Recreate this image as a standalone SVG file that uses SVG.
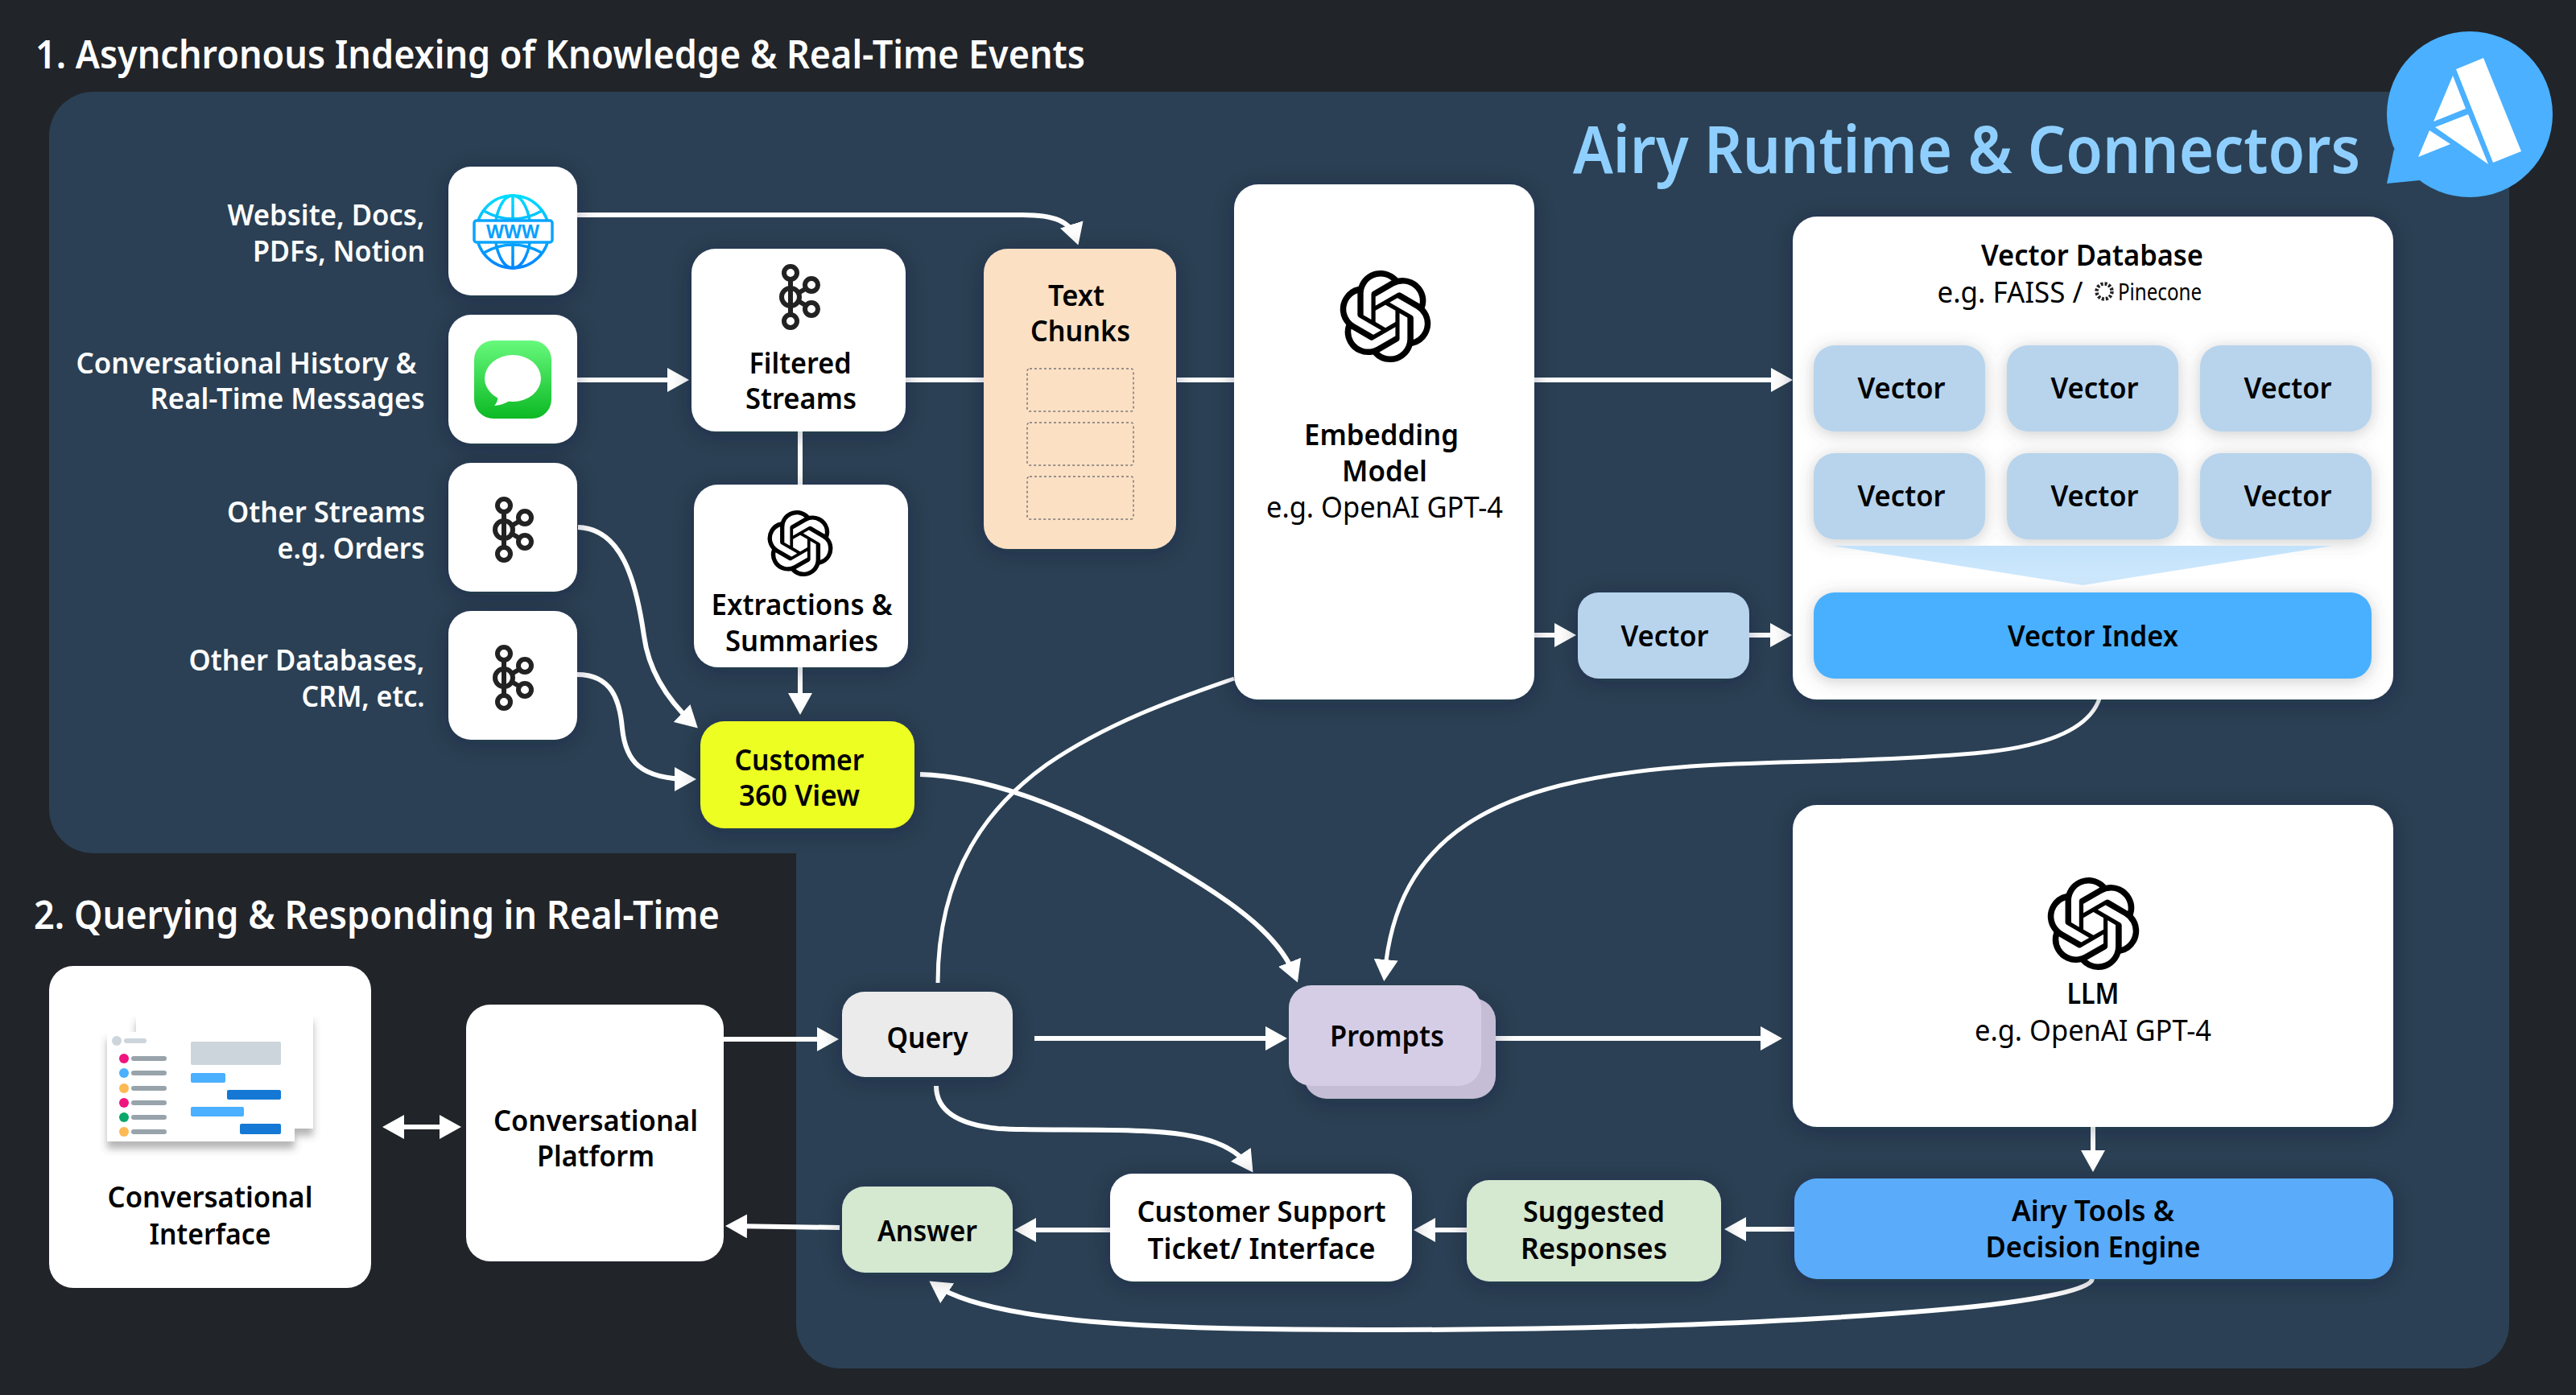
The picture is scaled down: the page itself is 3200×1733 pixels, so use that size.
<svg xmlns="http://www.w3.org/2000/svg" xmlns:xlink="http://www.w3.org/1999/xlink" width="3200" height="1733" viewBox="0 0 3200 1733">
<style>
text{font-family:"Noto Sans","Liberation Sans",sans-serif;text-anchor:middle;fill:#000;font-weight:600;font-size:36px}
.r{font-weight:400}
.h{fill:#fff;font-size:49px;text-anchor:start}
.w{fill:#fff;font-size:36px}
.c{fill:none;stroke:#fff;stroke-width:6}
.t{stroke-width:5}
.n{filter:url(#sh)}
.ks{fill:none;stroke:#222;stroke-width:6}
</style>
<defs>
<filter id="sh" x="-30%" y="-30%" width="160%" height="160%"><feDropShadow dx="0" dy="4" stdDeviation="14" flood-color="#0b1a28" flood-opacity=".3"/></filter>
<filter id="sg" x="-30%" y="-30%" width="160%" height="160%"><feDropShadow dx="0" dy="3" stdDeviation="10" flood-color="#555" flood-opacity=".3"/></filter>
<filter id="sm" x="-20%" y="-20%" width="140%" height="150%"><feDropShadow dx="0" dy="9" stdDeviation="5" flood-color="#444" flood-opacity=".4"/></filter>
<linearGradient id="gw" x1="0" y1="0" x2="0" y2="1"><stop offset="0" stop-color="#00dcff"/><stop offset="1" stop-color="#0084ff"/></linearGradient>
<linearGradient id="gm" x1="0" y1="0" x2="0" y2="1"><stop offset="0" stop-color="#67f97c"/><stop offset="1" stop-color="#0bb923"/></linearGradient>
<linearGradient id="gt" x1="0" y1="0" x2="0" y2="1"><stop offset="0" stop-color="#c2e2fb"/><stop offset="1" stop-color="#cfe9fd"/></linearGradient>
<marker id="a" markerUnits="userSpaceOnUse" markerWidth="27" markerHeight="30" viewBox="0 0 27 30" refX="19" refY="15" orient="auto-start-reverse"><path d="M0 0L27 15L0 30Z" fill="#fff"/></marker>
<symbol id="oa" viewBox="0 0 24 24"><path d="M22.2819 9.8211a5.9847 5.9847 0 0 0-.5157-4.9108 6.0462 6.0462 0 0 0-6.5098-2.9A6.0651 6.0651 0 0 0 4.9807 4.1818a5.9847 5.9847 0 0 0-3.9977 2.9 6.0462 6.0462 0 0 0 .7427 7.0966 5.98 5.98 0 0 0 .511 4.9107 6.051 6.051 0 0 0 6.5146 2.9001A5.9847 5.9847 0 0 0 13.2599 24a6.0557 6.0557 0 0 0 5.7718-4.2058 5.9894 5.9894 0 0 0 3.9977-2.9001 6.0557 6.0557 0 0 0-.7475-7.0729zm-9.022 12.6081a4.4755 4.4755 0 0 1-2.8764-1.0408l.1419-.0804 4.7783-2.7582a.7948.7948 0 0 0 .3927-.6813v-6.7369l2.02 1.1686a.071.071 0 0 1 .038.052v5.5826a4.504 4.504 0 0 1-4.4945 4.4944zm-9.6607-4.1254a4.4708 4.4708 0 0 1-.5346-3.0137l.142.0852 4.783 2.7582a.7712.7712 0 0 0 .7806 0l5.8428-3.3685v2.3324a.0804.0804 0 0 1-.0332.0615L9.74 19.9502a4.4992 4.4992 0 0 1-6.1408-1.6464zM2.3408 7.8956a4.485 4.485 0 0 1 2.3655-1.9728V11.6a.7664.7664 0 0 0 .3879.6765l5.8144 3.3543-2.0201 1.1685a.0757.0757 0 0 1-.071 0l-4.8303-2.7865A4.504 4.504 0 0 1 2.3408 7.872zm16.5963 3.8558L13.1038 8.364 15.1192 7.2a.0757.0757 0 0 1 .071 0l4.8303 2.7913a4.4944 4.4944 0 0 1-.6765 8.1042v-5.6772a.79.79 0 0 0-.407-.667zm2.0107-3.0231l-.142-.0852-4.7735-2.7818a.7759.7759 0 0 0-.7854 0L9.409 9.2297V6.8974a.0662.0662 0 0 1 .0284-.0615l4.8303-2.7866a4.4992 4.4992 0 0 1 6.6802 4.66zM8.3065 12.863l-2.02-1.1638a.0804.0804 0 0 1-.038-.0567V6.0742a4.4992 4.4992 0 0 1 7.3757-3.4537l-.142.0805L8.704 5.459a.7948.7948 0 0 0-.3927.6813zm1.0976-2.3654l2.602-1.4998 2.6069 1.4998v2.9994l-2.5974 1.4997-2.6067-1.4997Z"/></symbol>
<g id="kafka"><path class="ks" d="M626 636V680M634 654L646 647M634 662L646 669"/><circle class="ks" cx="626" cy="628" r="8"/><circle class="ks" cx="626" cy="658" r="11"/><circle class="ks" cx="626" cy="688" r="8"/><circle class="ks" cx="652" cy="643" r="8"/><circle class="ks" cx="652" cy="673" r="8"/></g>
</defs>
<rect id="background" width="3200" height="1733" fill="#212429"/>
<path id="panel" d="M116 114H3117V1645a55 55 0 0 1-55 55H1044a55 55 0 0 1-55-55V1060H116a55 55 0 0 1-55-55V169a55 55 0 0 1 55-55Z" fill="#2b4054"/>
<text class="h" x="44" y="85" textLength="1304" lengthAdjust="spacingAndGlyphs">1. Asynchronous Indexing of Knowledge &amp; Real-Time Events</text>
<text class="h" x="42" y="1154" textLength="852" lengthAdjust="spacingAndGlyphs">2. Querying &amp; Responding in Real-Time</text>
<text x="1954" y="215" style="text-anchor:start;fill:#8fcfff;font-size:82px" textLength="978" lengthAdjust="spacingAndGlyphs">Airy Runtime &amp; Connectors</text>

<g id="labels">
<text class="w" x="405" y="280" textLength="245" lengthAdjust="spacingAndGlyphs">Website, Docs,</text>
<text class="w" x="421" y="325" textLength="214" lengthAdjust="spacingAndGlyphs">PDFs, Notion</text>
<text class="w" x="306" y="464" textLength="423" lengthAdjust="spacingAndGlyphs">Conversational History &amp;</text>
<text class="w" x="357" y="508" textLength="341" lengthAdjust="spacingAndGlyphs">Real-Time Messages</text>
<text class="w" x="405" y="649" textLength="246" lengthAdjust="spacingAndGlyphs">Other Streams</text>
<text class="w" x="436" y="694" textLength="183" lengthAdjust="spacingAndGlyphs">e.g. Orders</text>
<text class="w" x="381" y="833" textLength="293" lengthAdjust="spacingAndGlyphs">Other Databases,</text>
<text class="w" x="451" y="878" textLength="153" lengthAdjust="spacingAndGlyphs">CRM, etc.</text>
</g>

<g id="connectors">
<path class="c" d="M717 267H1270C1310 267 1330 275 1337 297" marker-end="url(#a)"/>
<path class="c" d="M717 472H848" marker-end="url(#a)"/>
<path class="c" d="M1125 472H1222M1462 472H1533"/>
<path class="c" d="M1906 472H2219" marker-end="url(#a)"/>
<path class="c" d="M994 536V602"/>
<path class="c" d="M994 829V880" marker-end="url(#a)"/>
<path class="c" d="M718 655C772 657 790 720 800 790C806 835 830 870 861 899" marker-end="url(#a)"/>
<path class="c" d="M717 838C760 838 770 870 773 905C777 945 795 968 857 968" marker-end="url(#a)"/>
<path class="c" d="M1143 962C1260 965 1400 1040 1495 1100C1550 1135 1592 1170 1609 1213" marker-end="url(#a)"/>
<path class="c t" d="M1165 1221C1165 1080 1230 1000 1300 950C1380 895 1470 865 1533 843"/>
<path class="c" d="M899 1291H1034" marker-end="url(#a)"/>
<path class="c" d="M1043 1525L909 1523" marker-end="url(#a)"/>
<path class="c" d="M483 1400H565" marker-start="url(#a)" marker-end="url(#a)"/>
<path class="c" d="M1285 1290H1591" marker-end="url(#a)"/>
<path class="c" d="M1858 1290H2206" marker-end="url(#a)"/>
<path class="c" d="M1163 1349C1163 1380 1190 1397 1240 1402C1290 1405 1350 1402 1420 1405C1500 1408 1535 1425 1552 1450" marker-end="url(#a)"/>
<path class="c" d="M1379 1528H1268" marker-end="url(#a)"/>
<path class="c" d="M1822 1528H1764" marker-end="url(#a)"/>
<path class="c" d="M2229 1527H2150" marker-end="url(#a)"/>
<path class="c" d="M2600 1400V1448" marker-end="url(#a)"/>
<path class="c" d="M2599 1589C2597 1605 2500 1620 2400 1628C2200 1645 1950 1652 1727 1652C1500 1652 1240 1650 1161 1596" marker-end="url(#a)"/>
<path class="c t" d="M2611 850C2610 905 2540 930 2438 937C2300 948 2200 945 2100 952C1850 970 1735 1040 1720 1211" marker-end="url(#a)"/>
<path class="c" d="M1906 789H1950" marker-end="url(#a)"/>
<path class="c" d="M2173 789H2218" marker-end="url(#a)"/>
</g>

<g id="node-web"><rect class="n" x="557" y="207" width="160" height="160" rx="28" fill="#fff"/>
<g fill="none" stroke="url(#gw)" stroke-width="3.5"><circle cx="637" cy="288" r="45"/><ellipse cx="637" cy="288" rx="22" ry="45"/><path d="M637 243V333M601 262Q637 282 673 262M601 314Q637 294 673 314"/></g>
<rect x="589" y="274" width="97" height="27" rx="3" fill="#fff" stroke="#0aa4ff" stroke-width="3.5"/>
<text x="637" y="296" style="font-size:23px;fill:#0aa0ff;font-weight:700" textLength="66" lengthAdjust="spacingAndGlyphs">WWW</text></g>

<g id="node-messages"><rect class="n" x="557" y="391" width="160" height="160" rx="28" fill="#fff"/>
<rect x="589" y="423" width="96" height="97" rx="24" fill="url(#gm)"/>
<ellipse cx="637" cy="470" rx="35" ry="29" fill="#fff"/><path d="M618 488Q620 498 614 504Q626 503 634 497Z" fill="#fff"/></g>

<g id="node-streams"><rect class="n" x="557" y="575" width="160" height="160" rx="28" fill="#fff"/><use xlink:href="#kafka" href="#kafka"/></g>
<g id="node-databases"><rect class="n" x="557" y="759" width="160" height="160" rx="28" fill="#fff"/><use xlink:href="#kafka" href="#kafka" y="184"/></g>

<g id="node-filtered"><rect class="n" x="859" y="309" width="266" height="227" rx="30" fill="#fff"/><use xlink:href="#kafka" href="#kafka" x="356" y="-289"/>
<text x="994" y="464" textLength="127" lengthAdjust="spacingAndGlyphs">Filtered</text><text x="995" y="508" textLength="138" lengthAdjust="spacingAndGlyphs">Streams</text></g>

<g id="node-extractions"><rect class="n" x="862" y="602" width="266" height="227" rx="30" fill="#fff"/><use xlink:href="#oa" href="#oa" x="953" y="634" width="82" height="82"/>
<text x="996" y="764" textLength="225" lengthAdjust="spacingAndGlyphs">Extractions &amp;</text><text x="996" y="809" textLength="190" lengthAdjust="spacingAndGlyphs">Summaries</text></g>

<g id="node-customer"><rect class="n" x="870" y="896" width="266" height="133" rx="30" fill="#edff22"/>
<text x="993" y="957" textLength="161" lengthAdjust="spacingAndGlyphs">Customer</text><text x="993" y="1001" textLength="150" lengthAdjust="spacingAndGlyphs">360 View</text></g>

<g id="node-chunks"><rect class="n" x="1222" y="309" width="239" height="373" rx="30" fill="#fce0c4"/>
<text x="1337" y="380" textLength="70" lengthAdjust="spacingAndGlyphs">Text</text><text x="1342" y="424" textLength="124" lengthAdjust="spacingAndGlyphs">Chunks</text>
<g fill="none" stroke="#777" stroke-width="1.5" stroke-dasharray="3 3"><rect x="1276" y="458" width="132" height="53" rx="3"/><rect x="1276" y="525" width="132" height="53" rx="3"/><rect x="1276" y="592" width="132" height="53" rx="3"/></g></g>

<g id="node-embedding"><rect class="n" x="1533" y="229" width="373" height="640" rx="30" fill="#fff"/><use xlink:href="#oa" href="#oa" x="1664" y="336" width="114" height="114"/>
<text x="1716" y="553" textLength="192" lengthAdjust="spacingAndGlyphs">Embedding</text><text x="1720" y="598" textLength="106" lengthAdjust="spacingAndGlyphs">Model</text><text class="r" x="1720" y="643" textLength="294" lengthAdjust="spacingAndGlyphs">e.g. OpenAI GPT-4</text></g>

<g id="node-vector"><rect class="n" x="1960" y="736" width="213" height="107" rx="26" fill="#b7d4ec"/><text x="2068" y="803" textLength="109" lengthAdjust="spacingAndGlyphs">Vector</text></g>

<g id="node-vectordb"><rect class="n" x="2227" y="269" width="746" height="600" rx="30" fill="#fff"/>
<text x="2599" y="330" textLength="276" lengthAdjust="spacingAndGlyphs">Vector Database</text>
<text class="r" x="2497" y="376" textLength="181" lengthAdjust="spacingAndGlyphs">e.g. FAISS /</text>
<circle cx="2614" cy="362" r="9.5" fill="none" stroke="#222" stroke-width="4.5" stroke-dasharray="3 2"/>
<text class="r" x="2683" y="373" style="font-size:29px" textLength="104" lengthAdjust="spacingAndGlyphs">Pinecone</text>
<g filter="url(#sg)" fill="#b7d4ec"><rect x="2253" y="429" width="213" height="107" rx="26"/><rect x="2493" y="429" width="213" height="107" rx="26"/><rect x="2733" y="429" width="213" height="107" rx="26"/><rect x="2253" y="563" width="213" height="107" rx="26"/><rect x="2493" y="563" width="213" height="107" rx="26"/><rect x="2733" y="563" width="213" height="107" rx="26"/></g>
<text x="2362" y="495" textLength="109" lengthAdjust="spacingAndGlyphs">Vector</text><text x="2602" y="495" textLength="109" lengthAdjust="spacingAndGlyphs">Vector</text><text x="2842" y="495" textLength="109" lengthAdjust="spacingAndGlyphs">Vector</text>
<text x="2362" y="629" textLength="109" lengthAdjust="spacingAndGlyphs">Vector</text><text x="2602" y="629" textLength="109" lengthAdjust="spacingAndGlyphs">Vector</text><text x="2842" y="629" textLength="109" lengthAdjust="spacingAndGlyphs">Vector</text>
<path d="M2276 678H2898L2587 727Z" fill="url(#gt)"/>
<rect x="2253" y="736" width="693" height="107" rx="26" fill="#4ab0ff" filter="url(#sg)"/>
<text x="2600" y="803" textLength="212" lengthAdjust="spacingAndGlyphs">Vector Index</text></g>

<g id="node-llm"><rect class="n" x="2227" y="1000" width="746" height="400" rx="30" fill="#fff"/><use xlink:href="#oa" href="#oa" x="2543" y="1090" width="115" height="115"/>
<text x="2600" y="1247" textLength="65" lengthAdjust="spacingAndGlyphs">LLM</text><text class="r" x="2600" y="1293" textLength="294" lengthAdjust="spacingAndGlyphs">e.g. OpenAI GPT-4</text></g>

<g id="node-airy"><rect class="n" x="2229" y="1464" width="744" height="125" rx="28" fill="#5aabfa"/>
<text x="2600" y="1517" textLength="202" lengthAdjust="spacingAndGlyphs">Airy Tools &amp;</text><text x="2600" y="1562" textLength="267" lengthAdjust="spacingAndGlyphs">Decision Engine</text></g>

<g id="node-query"><rect class="n" x="1046" y="1232" width="212" height="106" rx="28" fill="#ebebeb"/><text x="1152" y="1302" textLength="101" lengthAdjust="spacingAndGlyphs">Query</text></g>

<g id="node-prompts"><rect class="n" x="1620" y="1240" width="238" height="125" rx="28" fill="#c5bcd6"/><rect x="1601" y="1224" width="239" height="125" rx="28" fill="#d5cde6"/><text x="1723" y="1300" textLength="142" lengthAdjust="spacingAndGlyphs">Prompts</text></g>

<g id="node-answer"><rect class="n" x="1046" y="1474" width="212" height="107" rx="28" fill="#d5e8d0"/><text x="1152" y="1542" textLength="124" lengthAdjust="spacingAndGlyphs">Answer</text></g>

<g id="node-ticket"><rect class="n" x="1379" y="1458" width="375" height="134" rx="28" fill="#fff"/><text x="1567" y="1518" textLength="309" lengthAdjust="spacingAndGlyphs">Customer Support</text><text x="1567" y="1564" textLength="283" lengthAdjust="spacingAndGlyphs">Ticket/ Interface</text></g>

<g id="node-suggested"><rect class="n" x="1822" y="1466" width="316" height="126" rx="28" fill="#d5e8d0"/><text x="1980" y="1518" textLength="176" lengthAdjust="spacingAndGlyphs">Suggested</text><text x="1980" y="1564" textLength="182" lengthAdjust="spacingAndGlyphs">Responses</text></g>

<g id="node-interface"><rect x="61" y="1200" width="400" height="400" rx="30" fill="#fff"/>
<path d="M169 1260H389V1402H366V1418H133V1282H169Z" fill="#fff" filter="url(#sm)"/>
<circle cx="145" cy="1293" r="6" fill="#cdd5dc"/><rect x="154" y="1290" width="28" height="6" rx="3" fill="#cdd5dc"/>
<g fill="#98a3ab"><rect x="163" y="1312" width="44" height="6" rx="3"/><rect x="163" y="1330" width="44" height="6" rx="3"/><rect x="163" y="1349" width="44" height="6" rx="3"/><rect x="163" y="1367" width="44" height="6" rx="3"/><rect x="163" y="1385" width="44" height="6" rx="3"/><rect x="163" y="1403" width="44" height="6" rx="3"/></g>
<circle cx="154" cy="1315" r="6" fill="#f0147f"/><circle cx="154" cy="1333" r="6" fill="#4ab0ff"/><circle cx="154" cy="1352" r="6" fill="#fdb954"/><circle cx="154" cy="1370" r="6" fill="#f0147f"/><circle cx="154" cy="1388" r="6" fill="#0aa86a"/><circle cx="154" cy="1406" r="6" fill="#fdb954"/>
<rect x="237" y="1294" width="112" height="29" rx="2" fill="#cdd5dc"/><rect x="237" y="1333" width="43" height="12" rx="2" fill="#4ab0ff"/><rect x="282" y="1354" width="67" height="12" rx="2" fill="#1478d4"/><rect x="237" y="1375" width="66" height="12" rx="2" fill="#4ab0ff"/><rect x="298" y="1396" width="51" height="13" rx="2" fill="#1478d4"/>
<text x="261" y="1500" textLength="255" lengthAdjust="spacingAndGlyphs">Conversational</text><text x="261" y="1546" textLength="151" lengthAdjust="spacingAndGlyphs">Interface</text></g>

<g id="node-platform"><rect x="579" y="1248" width="320" height="319" rx="30" fill="#fff"/><text x="740" y="1405" textLength="254" lengthAdjust="spacingAndGlyphs">Conversational</text><text x="740" y="1449" textLength="146" lengthAdjust="spacingAndGlyphs">Platform</text></g>

<g id="logo"><circle cx="3068" cy="142" r="103" fill="#4ab0ff"/><path d="M2965 228L2974 185L3006 224Z" fill="#4ab0ff"/>
<g fill="#fff"><path d="M3051 86L3085 72L3132 188L3097 202Z"/><path d="M3047 94L3063 135L3023 151Z"/><path d="M3066 142L3091 204L3025 158Z"/><path d="M3018 162L3044 179L3004 195Z"/></g></g>
</svg>
